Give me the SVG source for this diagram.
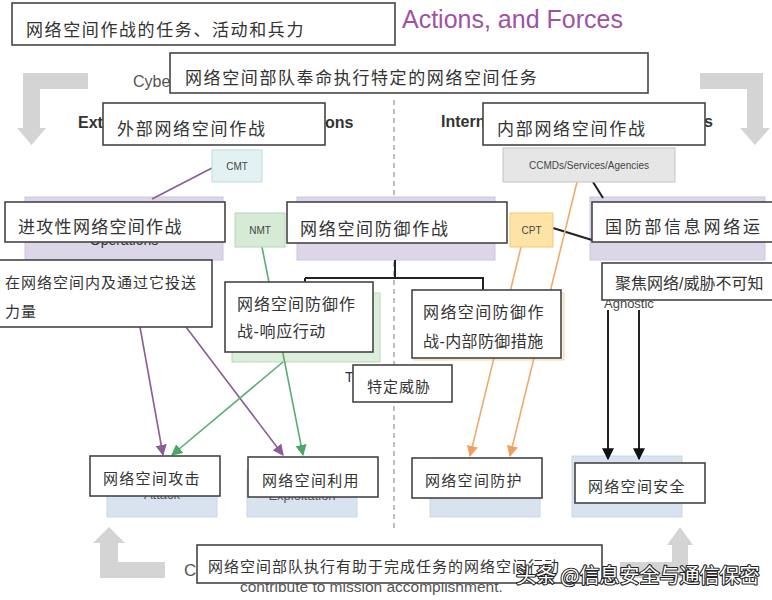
<svg xmlns="http://www.w3.org/2000/svg" width="772" height="600" viewBox="0 0 772 600">
<defs>
<style>
.bx{fill:#fff;stroke:#454545;stroke-width:1.6}
.cn{font-family:"Liberation Sans","Noto Sans CJK SC",sans-serif;fill:#333}
.en{font-family:"Liberation Sans",Arial,sans-serif}
.lav{fill:#ddd6e9;stroke:#cfc6df;stroke-width:1}
.blu{fill:#d8e3ef;stroke:#cbd7e6;stroke-width:1}
.ga{fill:#d4d4d4}
.sm{font-family:"Liberation Sans",Arial,sans-serif;font-size:10px;fill:#444}
.pl{stroke:#8a5c9a;stroke-width:1.6;fill:none}
.gl{stroke:#5aae74;stroke-width:1.6;fill:none}
.ol{stroke:#f0aa6a;stroke-width:1.6;fill:none}
.kl{stroke:#222;stroke-width:2;fill:none}
</style>
<marker id="ap" viewBox="0 0 10 10" refX="9" refY="5" markerWidth="7" markerHeight="7" orient="auto"><path d="M0,0L10,5L0,10z" fill="#8a5c9a"/></marker>
<marker id="ag" viewBox="0 0 10 10" refX="9" refY="5" markerWidth="7" markerHeight="7" orient="auto"><path d="M0,0L10,5L0,10z" fill="#4aa866"/></marker>
<marker id="ao" viewBox="0 0 10 10" refX="9" refY="5" markerWidth="7" markerHeight="7" orient="auto"><path d="M0,0L10,5L0,10z" fill="#f0a060"/></marker>
<marker id="ak" viewBox="0 0 10 10" refX="9" refY="5" markerWidth="6" markerHeight="6" orient="auto"><path d="M0,0L10,5L0,10z" fill="#111"/></marker>
</defs>
<rect width="772" height="600" fill="#fff"/>

<!-- background decorations -->
<g id="gray-arrows">
<path class="ga" d="M23,73H88V89H40V128H46L31.5,145L17,128H23Z"/>
<path class="ga" d="M700,73H763V128H770L755,145L740,128H747V89H700Z"/>
<path class="ga" d="M109,527L125,543H118V562H165V578H100V543H93Z"/>
<path class="ga" d="M680,527L693,545H688V578H620V562H672V545H667Z"/>
</g>
<line x1="394" y1="100" x2="394" y2="532" stroke="#bdbdbd" stroke-width="2" stroke-dasharray="5 4"/>

<text class="en" x="402" y="28" font-size="25" fill="#a052a2">Actions, and Forces</text>
<text class="en" x="133" y="87" font-size="16" fill="#555">Cybe</text>
<text class="en" x="78" y="128" font-size="16" font-weight="bold" fill="#333">Ext</text>
<text class="en" x="325" y="128" font-size="16" font-weight="bold" fill="#333">ons</text>
<text class="en" x="441" y="127" font-size="16" font-weight="bold" fill="#333">Intern</text>
<text class="en" x="704" y="127" font-size="16" font-weight="bold" fill="#333">s</text>
<text class="en" x="184" y="576" font-size="17" fill="#555">C</text>
<text class="en" x="240" y="592" font-size="15.5" fill="#555">contribute to mission accomplishment.</text>

<!-- background boxes -->
<g id="bg-boxes">
<rect class="lav" x="25" y="197" width="198" height="63"/>
<text class="en" x="124" y="245" font-size="14" fill="#333" text-anchor="middle">Operations</text>
<rect class="lav" x="297" y="197" width="198" height="63"/>
<rect class="lav" x="590" y="197" width="175" height="63"/>
<text class="en" x="604" y="308" font-size="13" fill="#444">Agnostic</text>
<rect x="232" y="293" width="148" height="69" fill="#dcefdc" stroke="#b9d9b9"/>
<rect x="414" y="293" width="150" height="67" fill="#fdf1e0" stroke="#f3d4b0"/>
<text class="en" x="345" y="382" font-size="14" fill="#333">T</text>
<rect class="blu" x="107" y="470" width="110" height="47"/>
<text class="en" x="162" y="499" font-size="13" fill="#555" text-anchor="middle">Attack</text>
<rect class="blu" x="247" y="470" width="110" height="47"/>
<text class="en" x="302" y="500" font-size="13" fill="#555" text-anchor="middle">Exploitation</text>
<rect class="blu" x="430" y="458" width="110" height="59"/>
<rect class="blu" x="572" y="456" width="110" height="61"/>
</g>

<!-- connectors -->
<g id="connectors">
<line class="pl" x1="212" y1="168" x2="152" y2="199"/>
<line class="kl" x1="593" y1="182" x2="603" y2="198" stroke-width="1.6"/>
<line class="kl" x1="553" y1="228" x2="592" y2="240" stroke-width="1.6"/>
<path class="kl" d="M395,260V278M305,278H483V292M305,278V284" stroke-width="1.8"/>
<line class="pl" x1="140" y1="327" x2="163" y2="455" marker-end="url(#ap)"/>
<line class="pl" x1="186" y1="327" x2="283" y2="455" marker-end="url(#ap)"/>
<line class="gl" x1="283" y1="362" x2="172" y2="455" marker-end="url(#ag)"/>
<line class="gl" x1="262" y1="247" x2="303" y2="455" marker-end="url(#ag)"/>
<line class="ol" x1="521" y1="247" x2="470" y2="456" marker-end="url(#ao)"/>
<line class="ol" x1="577" y1="182" x2="510" y2="456" marker-end="url(#ao)"/>
<line class="kl" x1="608" y1="310" x2="608" y2="459" marker-end="url(#ak)"/>
<line class="kl" x1="639" y1="310" x2="639" y2="459" marker-end="url(#ak)"/>
</g>

<!-- nodes -->
<g id="title">
<rect class="bx" x="12" y="3" width="383" height="42"/>
<text class="cn" x="26" y="36" font-size="17" letter-spacing="1.6">网络空间作战的任务、活动和兵力</text>
</g>
<g id="mission">
<rect class="bx" x="170" y="53" width="478" height="40"/>
<text class="cn" x="185" y="84" font-size="17" letter-spacing="1.6">网络空间部队奉命执行特定的网络空间任务</text>
</g>
<g id="external">
<rect class="bx" x="103" y="103" width="222" height="42"/>
<text class="cn" x="117" y="135" font-size="17" letter-spacing="1.7">外部网络空间作战</text>
</g>
<g id="internal">
<rect class="bx" x="483" y="103" width="222" height="42"/>
<text class="cn" x="497" y="135" font-size="17" letter-spacing="1.7">内部网络空间作战</text>
</g>
<g id="cmt">
<rect x="212" y="150" width="50" height="32" fill="#e2f2f2" stroke="#bedcdc"/>
<text class="sm" x="237" y="169.5" text-anchor="middle">CMT</text>
</g>
<g id="ccmds">
<rect x="503" y="148" width="172" height="34" fill="#e6e6e6" stroke="#c4c4c4"/>
<text class="sm" x="589" y="169" text-anchor="middle">CCMDs/Services/Agencies</text>
</g>
<g id="offensive">
<rect class="bx" x="5" y="202" width="220" height="40"/>
<text class="cn" x="18" y="233" font-size="17" letter-spacing="1.3">进攻性网络空间作战</text>
</g>
<g id="nmt">
<rect x="235" y="213" width="50" height="34" fill="#d6ebd6" stroke="#b6d6b6"/>
<text class="sm" x="260" y="234" text-anchor="middle">NMT</text>
</g>
<g id="defensive">
<rect class="bx" x="287" y="202" width="220" height="41"/>
<text class="cn" x="300" y="235" font-size="17" letter-spacing="1.7">网络空间防御作战</text>
</g>
<g id="cpt">
<rect x="510" y="213" width="43" height="34" fill="#fde4a6" stroke="#f1ca74"/>
<text class="sm" x="531.5" y="234" text-anchor="middle">CPT</text>
</g>
<g id="dodin">
<rect class="bx" x="592" y="202" width="182" height="40"/>
<text class="cn" x="605" y="233" font-size="17" letter-spacing="2.7">国防部信息网络运</text>
</g>
<g id="project">
<rect class="bx" x="-2" y="260" width="214" height="67"/>
<text class="cn" x="5" y="288" font-size="15" letter-spacing="1">在网络空间内及通过它投送</text>
<text class="cn" x="5" y="317" font-size="15" letter-spacing="1">力量</text>
</g>
<g id="agnostic">
<rect class="bx" x="602" y="263" width="172" height="37"/>
<text class="cn" x="615" y="289" font-size="16">聚焦网络/威胁不可知</text>
</g>
<g id="dco-ra">
<rect class="bx" x="225" y="282" width="148" height="70"/>
<text class="cn" x="237" y="310" font-size="16" letter-spacing="1">网络空间防御作</text>
<text class="cn" x="237" y="337" font-size="16" letter-spacing="0.6">战-响应行动</text>
</g>
<g id="dco-idm">
<rect class="bx" x="412" y="290" width="149" height="68"/>
<text class="cn" x="423" y="318" font-size="16" letter-spacing="1.4">网络空间防御作</text>
<text class="cn" x="423" y="347" font-size="16" letter-spacing="0.4">战-内部防御措施</text>
</g>
<g id="threat">
<rect class="bx" x="353" y="365" width="99" height="37"/>
<text class="cn" x="367" y="392" font-size="15" letter-spacing="1">特定威胁</text>
</g>
<g id="attack">
<rect class="bx" x="90" y="456" width="130" height="40"/>
<text class="cn" x="103" y="484" font-size="15" letter-spacing="1.3">网络空间攻击</text>
</g>
<g id="exploit">
<rect class="bx" x="248" y="457" width="130" height="40"/>
<text class="cn" x="262" y="486" font-size="15" letter-spacing="1.3">网络空间利用</text>
</g>
<g id="protect">
<rect class="bx" x="412" y="458" width="130" height="40"/>
<text class="cn" x="425" y="486" font-size="15" letter-spacing="1.3">网络空间防护</text>
</g>
<g id="security">
<rect class="bx" x="575" y="463" width="130" height="40"/>
<text class="cn" x="588" y="492" font-size="15" letter-spacing="1.3">网络空间安全</text>
</g>
<g id="contribute">
<rect class="bx" x="197" y="545" width="405" height="38"/>
<text class="cn" x="208" y="572" font-size="15" letter-spacing="1">网络空间部队执行有助于完成任务的网络空间行动</text>
</g>
<text x="516" y="583" font-family="'Noto Sans CJK SC',sans-serif" font-size="20" fill="#fff" stroke="#222" stroke-width="2.2" paint-order="stroke" stroke-linejoin="round">头条 @信息安全与通信保密</text>
</svg>
